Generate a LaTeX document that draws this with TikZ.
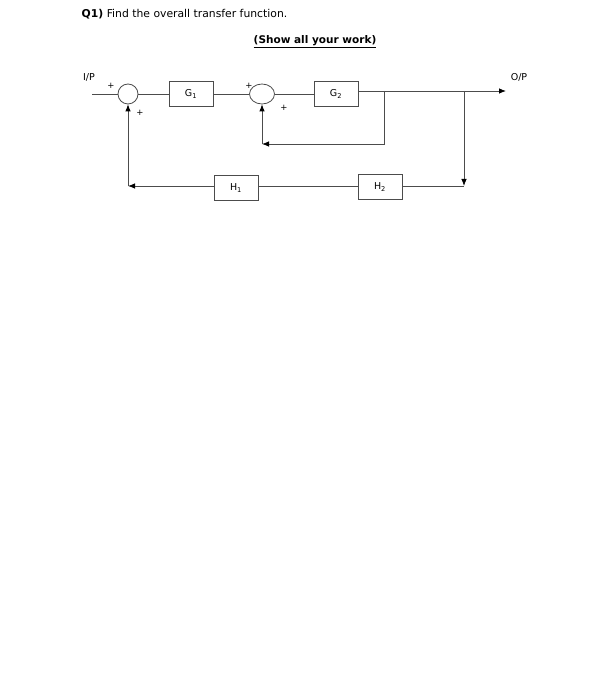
\documentclass[tikz,border=0pt]{standalone}
\usepackage{fontspec}
\setmainfont{DejaVu Sans}
\usetikzlibrary{shapes.geometric,arrows.meta}

\colorlet{wire}{black!70}

\begin{document}
\begin{tikzpicture}[x=1pt,y=-1pt,line width=0.8pt,
    sig/.style={draw=wire,-{Latex[length=7pt,width=5.5pt,color=black]}},
    wirel/.style={draw=wire}]

  \useasboundingbox (0,0) rectangle (610,700);

  \node[anchor=west,font=\fontsize{10.8}{13}\selectfont] (title) at (78,14) {\textbf{Q1)} Find the overall transfer function.};
  \node[font=\bfseries\fontsize{10.5}{13}\selectfont] (work) at (315,42) {\underline{(Show all your work)}};

  \begin{scope}[every node/.style={draw=wire,rectangle,minimum width=44pt,minimum height=25pt,inner sep=0pt,font=\fontsize{9.5}{11}\selectfont}]
    \node (g1) at (191,94)  {G\textsubscript{1}};
    \node (g2) at (336,94)  {G\textsubscript{2}};
    \node (h1) at (236,188) {H\textsubscript{1}};
    \node (h2) at (380,187) {H\textsubscript{2}};
  \end{scope}

  \node[draw=wire,circle,minimum size=20pt,inner sep=0pt] (s1) at (128,94) {};
  \node[draw=wire,ellipse,minimum width=25pt,minimum height=20pt,inner sep=0pt] (s2) at (262,94) {};

  \begin{scope}[every node/.style={font=\fontsize{8.5}{9}\selectfont,inner sep=0pt}]
    \node (p1) at (111,86)  {+};
    \node (p2) at (140,113) {+};
    \node (p3) at (249,86)  {+};
    \node (p4) at (284,108) {+};
  \end{scope}

  \begin{scope}[every node/.style={font=\fontsize{9.5}{11}\selectfont}]
    \node (ip) at (89,77)  {I/P};
    \node (op) at (519,77) {O/P};
  \end{scope}

  \coordinate (in)  at (92,94);
  \coordinate (out) at (506,91);
  \coordinate (b1)  at (384,91);
  \coordinate (b1l) at (262,144);
  \coordinate (b2)  at (464,91);
  \coordinate (b2d) at (464,186);
  \coordinate (f1)  at (128,186);

  \path[wirel] (in)  edge (s1)
               (s1)  edge (g1)
               (g1)  edge (s2)
               (s2)  edge (g2);
  \draw[sig]   (g2.east |- out) -- (out);
  \draw[sig]   (b1) |- (b1l);
  \draw[sig]   (b1l) -- (s2.south);
  \draw[sig]   (b2) -- (b2d);
  \path[wirel] (b2d) edge (h2.east |- b2d)
               (h2.west |- b2d) edge (h1.east |- b2d);
  \draw[sig]   (h1.west |- f1) -- (f1);
  \draw[sig]   (f1) -- (s1.south);

\end{tikzpicture}
\end{document}
